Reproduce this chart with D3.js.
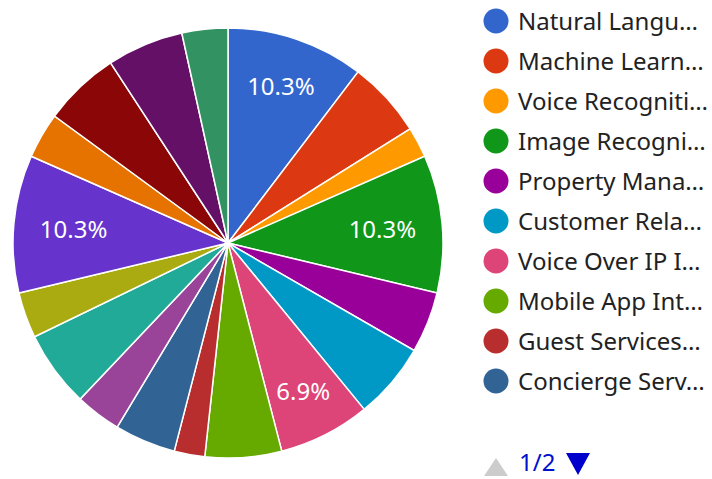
<!DOCTYPE html>
<html>
<head>
<meta charset="utf-8">
<script src="https://cdn.jsdelivr.net/npm/d3@7"></script>
<style>
  html, body { margin: 0; padding: 0; background: #fff; }
  svg { display: block; font-family: "Noto Sans", "Open Sans", sans-serif; }
</style>
</head>
<body>
<div id="chart"></div>
<script>
const categories = [
  'Natural Language Processing', 'Machine Learning', 'Voice Recognition',
  'Image Recognition', 'Property Management', 'Customer Relationship Management',
  'Voice Over IP Integration', 'Mobile App Integration', 'Guest Services Automation',
  'Concierge Services', 'Energy Management', 'Revenue Management',
  'Housekeeping Automation', 'Predictive Analytics', 'Chatbot Integration',
  'Smart Room Controls', 'Security Systems', 'Booking Engine'
];
const values = [9, 5, 2, 9, 4, 5, 6, 5, 2, 4, 3, 5, 3, 9, 3, 5, 5, 3];
const palette = [
  '#3366cc', '#dc3912', '#ff9900', '#109618', '#990099', '#0099c6',
  '#dd4477', '#66aa00', '#b82e2e', '#316395', '#994499', '#22aa99',
  '#aaaa11', '#6633cc', '#e67300', '#8b0707', '#651067', '#329262'
];
const legendPageSize = 10;

const width = 712, height = 479;
const cx = 228, cy = 243, radius = 215;
const fontSize = 24;

const data = categories.map((name, i) => ({ name, value: values[i], color: palette[i] }));
const total = d3.sum(values);

const svg = d3.select('#chart').append('svg')
  .attr('width', width)
  .attr('height', height);

const pie = d3.pie().sort(null).value(d => d.value);
const arc = d3.arc().innerRadius(0).outerRadius(radius);

const g = svg.append('g').attr('transform', `translate(${cx},${cy})`);

const arcs = pie(data);

g.selectAll('path')
  .data(arcs)
  .enter()
  .append('path')
  .attr('d', arc)
  .attr('fill', d => d.data.color)
  .attr('stroke', '#fff')
  .attr('stroke-width', 1.5);

// slice labels, pushed out until the text box touches an inner circle
const fmt = d => (d.data.value / total * 100).toFixed(1) + '%';
const labelRing = 190;
const labels = g.selectAll('text.slice')
  .data(arcs.filter(d => d.data.value >= 6))
  .enter()
  .append('text')
  .attr('class', 'slice')
  .attr('fill', '#fff')
  .style('font-size', fontSize + 'px')
  .attr('text-anchor', 'middle')
  .text(fmt);

labels.each(function(d) {
  const hw = this.getComputedTextLength() / 2;
  const hh = 12;
  const a = (d.startAngle + d.endAngle) / 2;
  const ux = Math.sin(a), uy = -Math.cos(a);
  const b = hw * Math.abs(ux) + hh * Math.abs(uy);
  const c = hw * hw + hh * hh - labelRing * labelRing;
  const dist = -b + Math.sqrt(b * b - c);
  d3.select(this)
    .attr('x', dist * ux)
    .attr('y', dist * uy + fontSize * 0.36);
});

// legend (page 1)
const legendX = 496, legendY = 21, legendStep = 40, maxTextWidth = 172.5;
const legend = svg.append('g');
const rows = legend.selectAll('g')
  .data(data.slice(0, legendPageSize))
  .enter()
  .append('g')
  .attr('transform', (d, i) => `translate(${legendX},${legendY + i * legendStep})`);

rows.append('circle')
  .attr('r', 12.5)
  .attr('fill', d => d.color);

// truncate: keep the longest prefix whose own width fits, then add an ellipsis
rows.append('text')
  .attr('x', 22)
  .attr('y', fontSize * 0.36)
  .attr('fill', '#222')
  .style('font-size', fontSize + 'px')
  .text(d => d.name)
  .each(function(d) {
    const t = d3.select(this);
    if (this.getComputedTextLength() <= maxTextWidth + 20) return;
    let s = d.name;
    while (s.length > 1) {
      s = s.slice(0, -1);
      t.text(s);
      if (this.getComputedTextLength() <= maxTextWidth) break;
    }
    t.text(s.trimEnd() + '…');
  });

// pager
const pager = svg.append('g').attr('transform', 'translate(0,462)');
pager.append('path')
  .attr('d', 'M484,14 L496,-4 L508,14 Z')
  .attr('fill', '#cccccc');
pager.append('text')
  .attr('x', 519)
  .attr('y', fontSize * 0.36)
  .attr('fill', '#0011cc')
  .style('font-size', fontSize + 'px')
  .text('1/' + Math.ceil(data.length / legendPageSize));
pager.append('path')
  .attr('d', 'M566,-9 L590,-9 L578,13 Z')
  .attr('fill', '#0000cc');
</script>
</body>
</html>
